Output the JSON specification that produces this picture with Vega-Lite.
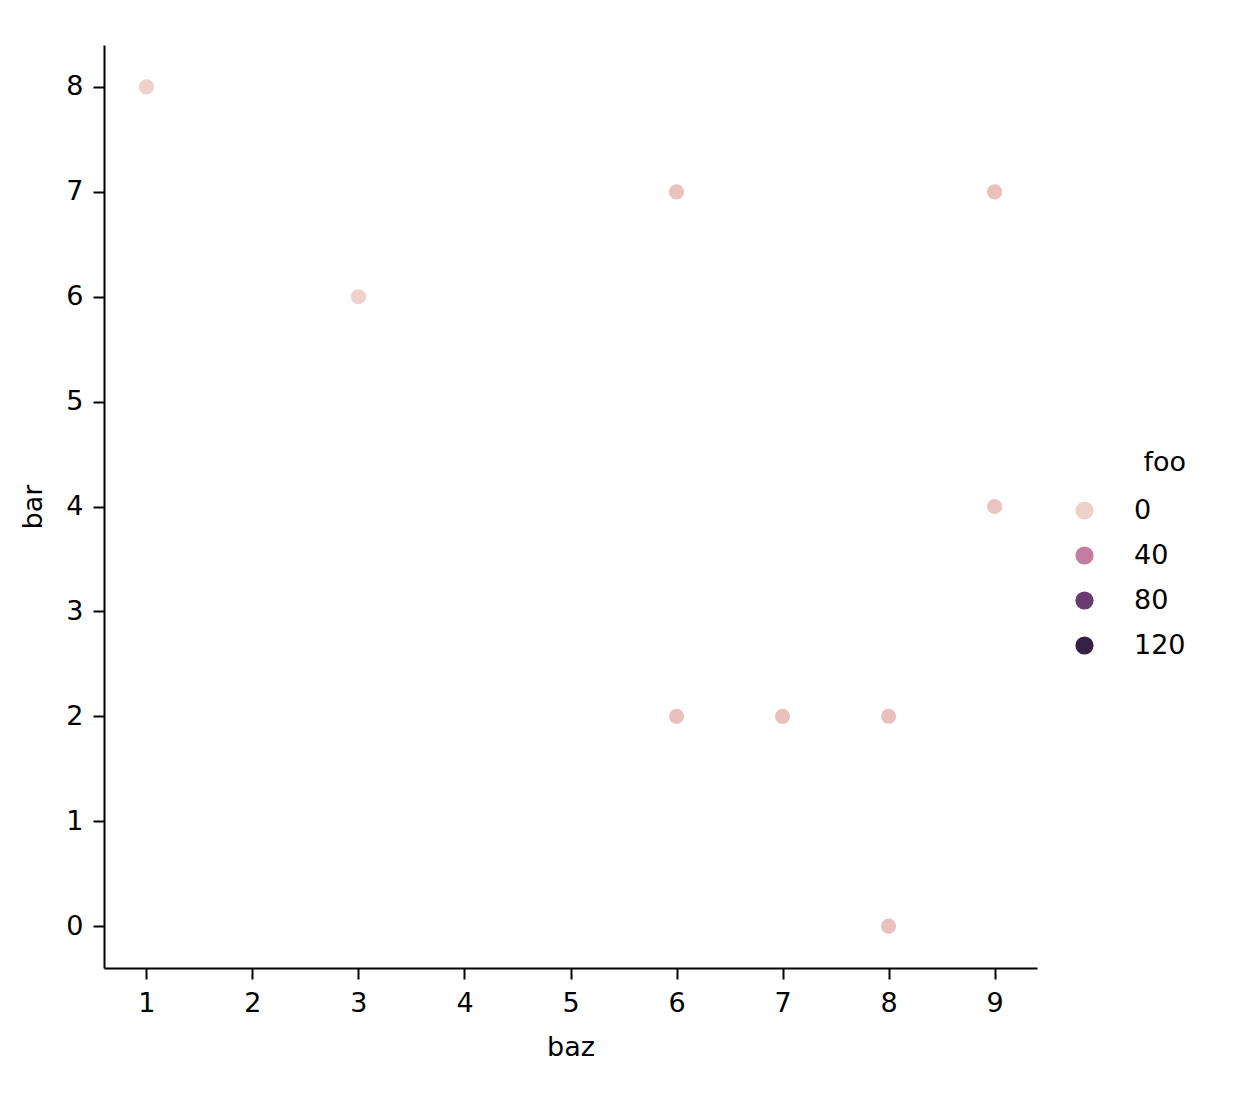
{
  "$schema": "https://vega.github.io/schema/vega-lite/v6.json",
  "description": "Scatter of bar against baz, coloured by foo.",
  "autosize": "none",
  "padding": {"left": 104, "top": 45, "right": 214, "bottom": 139},
  "width": 933,
  "height": 923,
  "background": "white",
  "data": {
    "values": [
      {"baz": 1, "bar": 8, "foo": 0},
      {"baz": 3, "bar": 6, "foo": 0},
      {"baz": 6, "bar": 7, "foo": 7},
      {"baz": 9, "bar": 7, "foo": 8},
      {"baz": 9, "bar": 4, "foo": 6},
      {"baz": 6, "bar": 2, "foo": 8},
      {"baz": 7, "bar": 2, "foo": 8},
      {"baz": 8, "bar": 2, "foo": 8},
      {"baz": 8, "bar": 0, "foo": 8}
    ]
  },
  "mark": {"type": "point", "filled": true, "shape": "circle", "size": 230, "opacity": 1},
  "encoding": {
    "x": {
      "field": "baz",
      "type": "quantitative",
      "title": "baz",
      "scale": {"domain": [0.6, 9.4], "nice": false, "zero": false},
      "axis": {"values": [1, 2, 3, 4, 5, 6, 7, 8, 9], "labelPadding": 11, "titlePadding": 18}
    },
    "y": {
      "field": "bar",
      "type": "quantitative",
      "title": "bar",
      "scale": {"domain": [-0.4, 8.4], "nice": false, "zero": false},
      "axis": {"values": [0, 1, 2, 3, 4, 5, 6, 7, 8], "labelPadding": 10, "titlePadding": 18}
    },
    "color": {
      "field": "foo",
      "type": "quantitative",
      "title": "foo",
      "scale": {
        "domain": [0, 40, 80, 125],
        "range": ["#efd1ca", "#c47da0", "#6b3a73", "#2d1d3d"]
      },
      "legend": {
        "type": "symbol",
        "values": [0, 40, 80, 120],
        "orient": "none",
        "legendX": 967,
        "legendY": 405,
        "symbolType": "circle",
        "symbolSize": 330,
        "symbolStrokeWidth": 0,
        "symbolOpacity": 1,
        "labelOffset": 36,
        "rowPadding": 17,
        "titlePadding": 20,
        "titleAnchor": "end"
      }
    }
  },
  "config": {
    "view": {"stroke": null},
    "font": "DejaVu Sans",
    "axis": {
      "grid": false,
      "domainColor": "#000000",
      "domainWidth": 2,
      "tickColor": "#000000",
      "tickWidth": 2,
      "tickSize": 11,
      "labelFont": "DejaVu Sans",
      "labelFontSize": 27,
      "labelColor": "#000000",
      "titleFont": "DejaVu Sans",
      "titleFontSize": 27,
      "titleFontWeight": "normal",
      "titleColor": "#000000"
    },
    "legend": {
      "labelFont": "DejaVu Sans",
      "labelFontSize": 27,
      "labelColor": "#000000",
      "titleFont": "DejaVu Sans",
      "titleFontSize": 27,
      "titleFontWeight": "normal",
      "titleColor": "#000000"
    }
  }
}
